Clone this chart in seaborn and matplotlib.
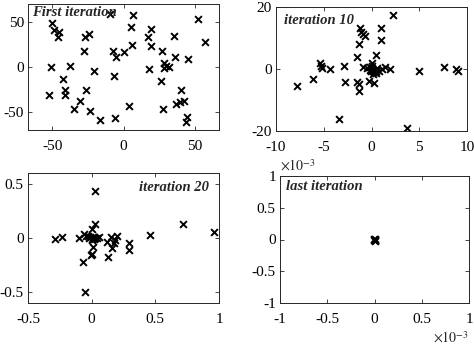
import numpy as np
import pandas as pd
import matplotlib
matplotlib.use("Agg")
import matplotlib.pyplot as plt
import seaborn as sns
from matplotlib.ticker import FuncFormatter

# ---------------- data ----------------
it1_x = [-50.2, -49, -45, -46, -24, -27, -28, -50.7, -37.6, -42.5, -40.7, -41, -52.6,
         -30.8, -34.6, -23.6, -26, -20.8, -16.8, -6.3, -7, -7.2, -5.6, 0.7, 6.1, 5.1,
         6.5, -9.8, 4.2, 19.4, 17.5, 19.4, 17.8, 26.9, 26.4, 28.5, 28.3, 29.9, 32.2,
         28, 35.5, 36.2, 45.6, 40.2, 37.1, 39.5, 42.3, 44.2, 43.5, 52.6, 57]
it1_y = [48.5, 41, 38.4, 33.6, 37, 33, 17.5, 0, 1, -13.8, -25.4, -30.6, -31,
         -38, -47, -49, -25.7, -4.5, -58.6, -56.3, -10.4, 18.3, 11.2, 16.8, 24.6, 44,
         58.2, 59, -43.7, 42.2, 33.2, 23.1, -1.9, 17.9, -15.3, 4.5, -0.7, 0.7, 0.4,
         -46.6, 34.3, 11.6, 8.6, -26, -41, -38.4, -38, -56, -61.2, 53.7, 27.6]

it10_x = [2.26, -1.25, -1.1, -0.84, -0.7, 0.98, 0.98, -1.36, -1.57, 0.49, -5.4, -5.3,
          -5.2, -4.36, -2.86, -6.17, -7.8, -2.75, -1.53, -1.32, -1.36, -3.4, 3.76,
          5.0, 7.6, 8.9, 9.1, -0.87, -0.5, -0.2, 0.0, 0.15, 0.35, 0.5, 0.8, 0.03,
          0.3, -0.28, 1.08, 1.46, 1.9, -0.17, 0.25, 0.45, 0.6, 0.1, -0.05, 0.2]
it10_y = [17.5, 13.2, 11.8, 11.2, 10.7, 13.1, 9.5, 8.2, 3.8, 4.6, 2.0, 1.1,
          0.2, 0.1, 1.0, -3.3, -5.4, -4.1, -4.1, -4.8, -7.2, -16.1, -18.9,
          -0.5, 0.6, 0.0, -0.8, 0.5, 0.2, -0.2, -0.4, -0.6, -1.0, -0.8, -0.5, 1.8,
          -4.5, -3.8, -0.1, 0.5, -0.1, 0.75, -0.9, -1.3, 0.3, 0.9, -0.7, -1.5]

it20_x = [0.03, 0.024, 0.0, -0.29, -0.234, -0.1, -0.06, -0.045, 0.01, -0.005, 0.0,
          -0.066, -0.055, 0.058, 0.124, 0.153, 0.18, 0.2, 0.163, 0.176, 0.13, 0.295,
          0.295, 0.458, 0.72, 0.96, -0.02, -0.01, 0.0, 0.01, 0.02, 0.03, 0.04, -0.03,
          0.005, 0.015]
it20_y = [0.43, 0.13, 0.083, -0.006, 0.012, 0.003, 0.04, 0.02, -0.083, -0.157, -0.15,
          -0.225, -0.495, 0.006, -0.037, 0.006, -0.015, 0.015, -0.092, -0.046, -0.178,
          -0.046, -0.108, 0.025, 0.13, 0.052, 0.0, 0.01, -0.01, 0.005, -0.008, 0.0,
          0.004, 0.02, -0.02, 0.012]

last_x = [0.0, 0.000005, -0.000005, 0.000003, -0.000003, 0.0]
last_y = [0.0, 0.000004, -0.000004, -0.000005, 0.000005, -0.00002]

titles = ["First iteration", "iteration 10", "iteration 20", "last iteration"]

# ---------------- style ----------------
sns.set_theme(style="white")
plt.rcParams["font.family"] = ["Liberation Serif", "DejaVu Serif"]
plt.rcParams["mathtext.fontset"] = "stix"
plt.rcParams["axes.unicode_minus"] = False
plt.rcParams["xtick.direction"] = "in"
plt.rcParams["ytick.direction"] = "in"

W, H = 474, 346
fig = plt.figure(figsize=(W / 100, H / 100), dpi=100)


def px_axes(l, r, t, b):
    return fig.add_axes([l / W, 1 - b / H, (r - l) / W, (b - t) / H])


axs = [px_axes(28, 219, 4, 130), px_axes(276, 467, 7, 131),
       px_axes(28, 219, 173, 303), px_axes(280, 469, 176, 303)]

datasets = [(it1_x, it1_y), (it10_x, it10_y), (it20_x, it20_y), (last_x, last_y)]
for ax, (xs, ys) in zip(axs, datasets):
    df = pd.DataFrame({"x": xs, "y": ys})
    sns.scatterplot(data=df, x="x", y="y", ax=ax, marker="x", color="black",
                    s=24, linewidth=1.4, legend=False)
    ax.set_xlabel("")
    ax.set_ylabel("")
    for sp in ax.spines.values():
        sp.set_color("#262626")
        sp.set_linewidth(0.7)
    ax.tick_params(axis="both", which="both", labelsize=11, colors="#262626",
                   labelcolor="black", length=3, width=0.6, top=True, right=True,
                   bottom=True, left=True)
    ax.tick_params(axis="x", pad=7)
    ax.tick_params(axis="y", pad=3)

fmt = FuncFormatter(lambda v, p: "%g" % round(v, 6))

a = axs[0]
a.set_xlim(-67, 67); a.set_ylim(-70, 70)
a.set_xticks([-50, 0, 50]); a.set_yticks([-50, 0, 50])

a = axs[1]
a.set_xlim(-10, 10); a.set_ylim(-20, 20)
a.set_xticks([-10, -5, 0, 5, 10]); a.set_yticks([-20, 0, 20])

a = axs[2]
a.set_xlim(-0.5, 1); a.set_ylim(-0.6, 0.6)
a.set_xticks([-0.5, 0, 0.5, 1]); a.set_yticks([-0.5, 0, 0.5])

a = axs[3]
a.set_xlim(-1e-3, 1e-3); a.set_ylim(-1e-3, 1e-3)
a.set_xticks([-1e-3, -0.5e-3, 0, 0.5e-3, 1e-3])
a.set_yticks([-1e-3, -0.5e-3, 0, 0.5e-3, 1e-3])
sc = FuncFormatter(lambda v, p: "%g" % round(v * 1e3, 6))
a.xaxis.set_major_formatter(sc)
a.yaxis.set_major_formatter(sc)
a.text(0.0, 1.02, r"$\times10^{-3}$", transform=a.transAxes, fontsize=10,
       ha="left", va="bottom")
a.text(1.0, -0.21, r"$\times10^{-3}$", transform=a.transAxes, fontsize=10,
       ha="right", va="top")

for a in axs[:3]:
    a.xaxis.set_major_formatter(fmt)
    a.yaxis.set_major_formatter(fmt)

tkw = dict(fontsize=10.5, fontweight="bold", fontstyle="italic", va="center")
axs[0].text(0.02, 0.93, titles[0], transform=axs[0].transAxes, ha="left", **tkw)
axs[1].text(0.04, 0.895, titles[1], transform=axs[1].transAxes, ha="left", **tkw)
axs[2].text(0.948, 0.885, titles[2], transform=axs[2].transAxes, ha="right", **tkw)
axs[3].text(0.03, 0.92, titles[3], transform=axs[3].transAxes, ha="left", **tkw)

fig.savefig("out.png", dpi=100)
